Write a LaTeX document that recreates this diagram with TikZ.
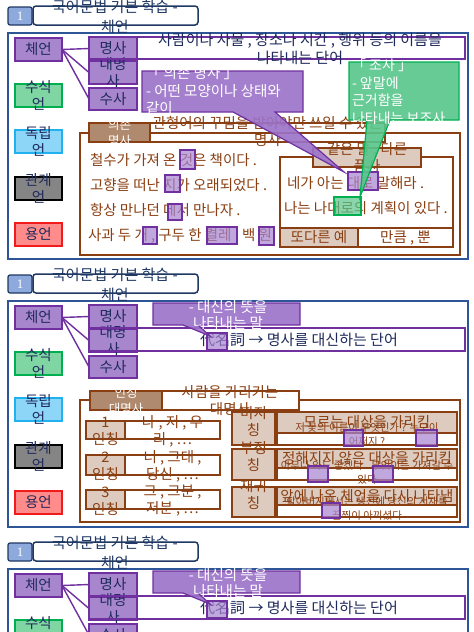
\documentclass[tikz,border=0pt]{standalone}
\usepackage{fontspec}
\setmainfont{Noto Sans CJK KR}
\newfontfamily\numfont{Liberation Serif}
\definecolor{navy}{HTML}{1F2A5C}
\definecolor{tnavy}{HTML}{1F3864}
\definecolor{fblue}{HTML}{2E5597}
\definecolor{onefill}{HTML}{8EA9DB}
\definecolor{purfill}{HTML}{A886CD}
\definecolor{purline}{HTML}{7030A0}
\definecolor{calpur}{HTML}{9B72C9}
\definecolor{hlpur}{HTML}{A684D2}
\definecolor{grnfill}{HTML}{7FD6A3}
\definecolor{grnline}{HTML}{00B050}
\definecolor{calgrn}{HTML}{57C68B}
\definecolor{blufill}{HTML}{8ED6F7}
\definecolor{bluline}{HTML}{1FB2EE}
\definecolor{gryfill}{HTML}{858585}
\definecolor{redfill}{HTML}{FF8B8B}
\definecolor{redline}{HTML}{F21B1B}
\definecolor{brn}{HTML}{8A3F12}
\definecolor{tanfill}{HTML}{B08A6E}
\definecolor{ltan}{HTML}{DDCBC0}
\tikzset{
 nb/.style={inner sep=0pt, outer sep=0pt},
 frameline/.style={draw=fblue, line width=1.4pt},
 onebox/.style={nb, draw=tnavy, fill=onefill, line width=1.2pt, rounded corners=2pt},
 onetxt/.style={nb, font=\numfont\fontsize{13}{13}\selectfont, text=white},
 titlebox/.style={nb, draw=tnavy, fill=white, line width=1.5pt, rounded corners=3pt},
 titletxt/.style={nb, align=center, font=\fontsize{15}{20}\selectfont, text=tnavy},
 cbox/.style={nb, line width=1.3pt},
 pbox/.style={cbox, draw=purline, fill=purfill},
 gbox/.style={cbox, draw=grnline, fill=grnfill},
 bbox/.style={cbox, draw=bluline, fill=blufill},
 kbox/.style={cbox, draw=black, fill=gryfill},
 rbox/.style={cbox, draw=redline, fill=redfill},
 ltxt/.style={nb, align=center, font=\fontsize{14.5}{17}\selectfont, text=navy},
 pline/.style={draw=purline, line width=1.4pt},
 prect/.style={nb, draw=purline, line width=1.3pt},
 deftxt/.style={nb, align=center, font=\fontsize{15}{18}\selectfont, text=navy},
 bline/.style={draw=brn, line width=1.4pt},
 tanbox/.style={nb, draw=brn, fill=tanfill, line width=1.4pt},
 ltanbox/.style={nb, draw=brn, fill=ltan, line width=1.4pt},
 wbox/.style={nb, draw=brn, fill=white, line width=1.4pt},
 obox/.style={nb, draw=brn, line width=1.4pt},
 btxt/.style={nb, align=center, font=\fontsize{14.5}{17}\selectfont, text=brn},
 bstxt/.style={nb, anchor=west, align=left, font=\fontsize{14.5}{17}\selectfont, text=brn},
 wtxt/.style={nb, align=center, font=\fontsize{12.5}{16}\selectfont, text=white},
 smtxt/.style={nb, align=center, font=\fontsize{10.5}{14}\selectfont, text=brn},
 hlp/.style={nb, draw=purline, fill=hlpur, fill opacity=0.7, line width=1.2pt},
 hlg/.style={nb, draw=grnline, fill=calgrn, fill opacity=0.7, line width=1.2pt},
 callp/.style={draw=purline, fill=calpur, line width=1.2pt, fill opacity=0.9},
 callg/.style={draw=grnline, fill=calgrn, line width=1.2pt, fill opacity=0.9},
 caltxt/.style={nb, align=left, anchor=west, font=\fontsize{14.5}{17.5}\selectfont, text=white},
}
\newcommand\bx[6]{%
 \pgfmathsetmacro\myBW{#5-#3}\pgfmathsetmacro\myBH{#6-#4}%
 \pgfmathsetmacro\myCX{(#3+#5)/2}\pgfmathsetmacro\myCY{(#4+#6)/2}%
 \node[#1, minimum width=\myBW pt, minimum height=\myBH pt] (#2) at (\myCX,\myCY) {};}
\newcommand\header{%
 \draw[frameline] (8,33) rectangle (468,259);
 \bx{onebox}{one}{8}{7}{32}{25}
 \node[onetxt] (onet) at (one) {1};
 \bx{titlebox}{tbox}{33}{6}{198}{25}
 \node[titletxt] (ttl) at (115,17) {국어문법 기본 학습 -\\체언};
 \bx{pbox}{cheon}{15}{38}{62}{61}
 \bx{gbox}{susik}{15}{84}{62}{107}
 \bx{bbox}{dokrip}{15}{130}{62}{153}
 \bx{kbox}{gwange}{15}{177}{62}{200}
 \bx{rbox}{yong}{15}{223}{62}{246}
 \node[ltxt] (cheont) at (cheon) {체언};
 \node[ltxt] (susikt) at (susik) {수식\\언};
 \node[ltxt] (dokript) at (dokrip) {독립\\언};
 \node[ltxt] (gwanget) at (gwange) {관계\\언};
 \node[ltxt] (yongt) at (yong) {용언};
 \bx{pbox}{myeong}{89}{37}{137}{60}
 \bx{pbox}{daem}{89}{61}{137}{84}
 \bx{pbox}{susa}{89}{88}{137}{110}
 \node[ltxt] (myeongt) at (myeong) {명사};
 \node[ltxt] (daemt) at (daem) {대명\\사};
 \node[ltxt] (susat) at (susa) {수사};
 \draw[pline] (cheon.east) -- (myeong.west);
 \draw[pline] (cheon.east) -- (daem.west);
 \draw[pline] (cheon.east) -- (susa.west);
}
\newcommand\contentA{%
 \bx{prect}{def1}{89}{37}{465}{59}
 \node[deftxt] (def1t) at (300,49) {사람이나 사물 , 장소나 시간 , 행위 등의 이름을\\나타내는 단어};
 \draw[bline] (80,133) rectangle (460,255);
 \bx{obox}{uidesc}{150}{123}{385}{142}
 \bx{tanbox}{uijon}{89}{123}{150}{142}
 \node[wtxt] (uijont) at (uijon) {의존\\명사};
 \node[btxt] (uidesct) at (267.5,132) {관형어의 꾸밈을 받아야만 쓰일 수 있는\\명사};
 \node[bstxt] (s1) at (90,160) {철수가 가져 온 것은 책이다 .};
 \node[bstxt] (s2) at (90,185) {고향을 떠난 지가 오래되었다 .};
 \node[bstxt] (s3) at (90,210) {항상 만나던 데서 만나자 .};
 \node[bstxt] (s4) at (88,236) {사과 두 개 ,  구두 한 켤레 ,  백 원};
 \draw[bline] (280,157) rectangle (453,247);
 \bx{ltanbox}{same}{313}{148}{421}{167}
 \node[btxt] (samet) at (367,158) {같은 말 , 다른\\품사};
 \bx{ltanbox}{another}{280}{228}{358}{247}
 \bx{wbox}{mankeum}{358}{228}{453}{247}
 \node[btxt] (anothert) at (another) {또다른 예};
 \node[btxt] (mankeumt) at (mankeum) {만큼 , 뿐};
 \node[bstxt] (s5) at (287,183) {네가 아는 대로 말해라 .};
 \node[bstxt] (s6) at (284,208) {나는 나대로의 계획이 있다 .};
 \bx{hlp}{h1}{180}{150}{195}{169}
 \bx{hlp}{h2}{165}{175}{180}{192}
 \bx{hlp}{h3}{168}{204}{182}{220}
 \bx{hlp}{h4}{143}{227}{157}{244}
 \bx{hlp}{h5}{207}{227}{237}{244}
 \bx{hlp}{h6}{259}{227}{274}{245}
 \bx{hlp}{h7}{348}{172}{378}{190}
 \bx{hlg}{h8}{334}{197}{361}{215}
 \draw[callp] (142,71) -- (303,71) -- (303,112) -- (275,112) -- (344,172) -- (233,112) -- (142,112) -- cycle;
 \node[caltxt] (calAt) at (146,90.5) {「 의존 명사 」\\-  어떤 모양이나 상태와\\같이};
 \draw[callg] (349,62) -- (459,62) -- (459,120) -- (390,120) -- (360,197) -- (367,120) -- (349,120) -- cycle;
 \node[caltxt, font=\fontsize{14}{17.7}\selectfont] (calBt) at (352,91.5) {「 조사 」\\-  앞말에\\근거함을\\나타내는 보조사};
}
\newcommand\contentB{%
 \bx{prect}{def2}{89}{60}{465}{83}
 \node[deftxt] (def2t) at (299,72) {代名詞 → 명사를 대신하는 단어};
 \draw[bline] (80,132) rectangle (460,254);
 \bx{tanbox}{inch}{90}{123}{162}{142}
 \bx{wbox}{inchd}{162}{123}{299}{142}
 \node[wtxt] (incht) at (inch) {인칭\\대명사};
 \node[btxt] (inchdt) at (230,133) {사람을 가리키는\\대명사};
 \bx{ltanbox}{p1}{86}{153}{125}{171}
 \bx{wbox}{p1w}{125}{153}{220}{171}
 \node[btxt] (p1t) at (105.5,163) {1\\인칭};
 \node[btxt] (p1wt) at (172.5,163) {나 ,  저 ,  우\\리 , …};
 \bx{ltanbox}{p2}{86}{187}{125}{207}
 \bx{wbox}{p2w}{125}{187}{220}{207}
 \node[btxt] (p2t) at (105.5,198) {2\\인칭};
 \node[btxt] (p2wt) at (172.5,198) {너 ,  그대 ,\\당신 , …};
 \bx{ltanbox}{p3}{86}{222}{125}{241}
 \bx{wbox}{p3w}{125}{222}{220}{241}
 \node[btxt] (p3t) at (105.5,233) {3\\인칭};
 \node[btxt] (p3wt) at (172.5,233) {그 ,  그분 ,\\저분 , …};
 \bx{ltanbox}{q1}{232}{144}{275}{177}
 \bx{ltanbox}{q1h}{277}{144}{457}{165}
 \bx{wbox}{q1w}{277}{165}{457}{177}
 \node[btxt] (q1t) at (253.5,153.5) {미지\\칭};
 \node[btxt] (q1ht) at (367,154) {모르는 대상을 가리킴};
 \node[smtxt] (q1wt) at (367,167) {저 꽃의 이름이 무엇인가 ? 누구이\\어쩌지 ?};
 \bx{ltanbox}{q2}{232}{181}{275}{212}
 \bx{ltanbox}{q2h}{277}{181}{457}{200}
 \bx{wbox}{q2w}{277}{200}{457}{212}
 \node[btxt] (q2t) at (253.5,189) {부정\\칭};
 \node[btxt] (q2ht) at (367,190) {정해지지 않은 대상을 가리킴};
 \node[smtxt] (q2wt) at (367,205) {아무나 와도 좋겠다 . 무엇이든 가져갈 수\\있다};
 \bx{ltanbox}{q3}{232}{219}{275}{249}
 \bx{ltanbox}{q3h}{277}{219}{457}{237}
 \bx{wbox}{q3w}{277}{237}{457}{249}
 \node[btxt] (q3t) at (253.5,227) {재귀\\칭};
 \node[btxt] (q3ht) at (367,228) {앞에 나온 체언을 다시 나타냄};
 \node[smtxt] (q3wt) at (367,241) {할아버지께서는 생전에 당신의 서재를\\끔찍이 아끼셨다};
 \bx{hlp}{k1}{344}{162}{363}{178}
 \bx{hlp}{k2}{416}{162}{437}{178}
 \bx{hlp}{k3}{308}{198}{328}{214}
 \bx{hlp}{k4}{373}{198}{393}{214}
 \bx{hlp}{k5}{322}{235}{340}{250}
 \bx{hlp}{hd}{207}{65}{227}{82}
 \draw[callp] (153,35) -- (300,35) -- (300,57) -- (198,57) -- (210,68) -- (183,57) -- (153,57) -- cycle;
 \node[caltxt, align=center, anchor=center, font=\fontsize{14.5}{16.5}\selectfont] (calCt) at (228,38.5) {「 대명사 」\\-  대신의 뜻을\\나타내는 말};
}
\begin{document}
\begin{tikzpicture}[x=1pt,y=-1pt]
\useasboundingbox (0,0) rectangle (474,632);
\fill[white] (0,0) rectangle (474,632);
\clip (0,0) rectangle (474,632);
\header
\contentA
\begin{scope}[yshift=-268pt]
\header
\contentB
\end{scope}
\begin{scope}[yshift=-536pt]
\header
\contentB
\end{scope}
\end{tikzpicture}
\end{document}
